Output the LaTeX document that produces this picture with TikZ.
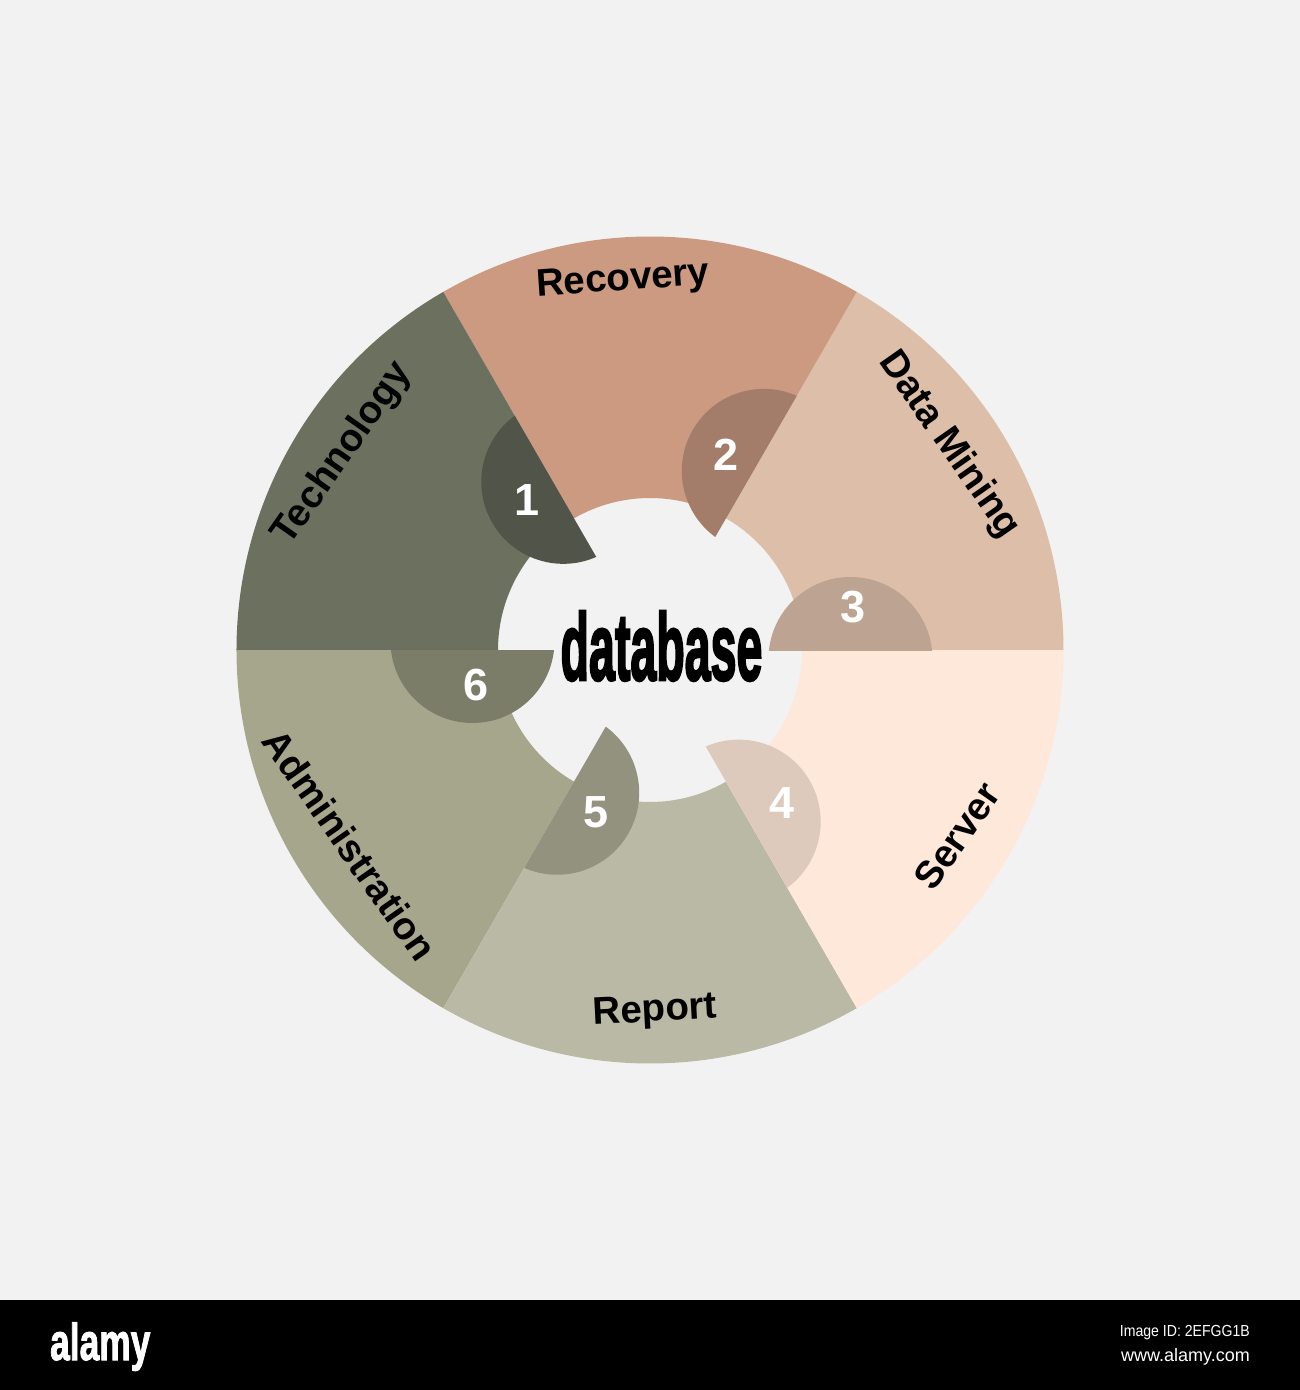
\documentclass[tikz,border=0pt]{standalone}
\usepackage{fontspec}
\setmainfont{Liberation Sans}
\newfontfamily\dbfont[BoldFeatures={FakeBold=3}]{Liberation Sans}
\newfontfamily\logofont[BoldFeatures={FakeBold=2}]{Liberation Sans}
\definecolor{bg}{HTML}{F2F2F2}
\definecolor{secDM}{HTML}{DDBEA8}
\definecolor{secRec}{HTML}{CB9A80}
\definecolor{secTech}{HTML}{6B705F}
\definecolor{secAdm}{HTML}{A6A68C}
\definecolor{secRep}{HTML}{B9B9A5}
\definecolor{secSrv}{HTML}{FEE8DA}
\definecolor{tabA}{HTML}{515448}
\definecolor{tabB}{HTML}{A37D6A}
\definecolor{tabC}{HTML}{BDA392}
\definecolor{tabD}{HTML}{DDCABC}
\definecolor{tabE}{HTML}{93927F}
\definecolor{tabF}{HTML}{7B7D69}
\begin{document}
\begin{tikzpicture}[x=1pt,y=1pt,
  lab/.style={font=\bfseries\fontsize{38.5}{38.5}\selectfont, text=black, inner sep=0pt},
  numlbl/.style={font=\bfseries\fontsize{45}{45}\selectfont, text=white, inner sep=0pt},
  barlbl/.style={text=white, inner sep=0pt}]
\useasboundingbox (-650,-740) rectangle (650,650);
\fill[bg] (-650,-650) rectangle (650,650);
\fill[black] (-650,-740) rectangle (650,-650);
% sectors
\foreach \a/\c in {0/secDM,60/secRec,120/secTech,180/secAdm,240/secRep,300/secSrv}{
  \fill[\c] (\a:413.5) arc[start angle=\a, delta angle=60, radius=413.5]
    -- ({\a+60}:152) arc[start angle={\a+60}, delta angle=-60, radius=152] -- cycle;
}
% number tabs
\foreach \a/\d/\c in {0/200.5/tabC,60/212/tabB,120/189/tabA,180/177.5/tabF,240/170/tabE,300/193/tabD}{
  \begin{scope}[rotate=\a]
    \clip (-600,0) rectangle (600,600);
    \fill[\c] (\d,-9) circle[radius=82];
  \end{scope}
}
% labels
\node[lab, rotate=4]   (rec)  at (-27,369)   {Recovery};
\node[lab, rotate=-55] (dm)   at (299,205)   {Data Mining};
\node[lab, rotate=55]  (tech) at (-307,196)  {Technology};
\node[lab, rotate=-55] (adm)  at (-300,-195) {Administration};
\node[lab, rotate=3]   (rep)  at (5,-362)    {Report};
\node[lab, rotate=55]  (srv)  at (307,-186)  {Server};
% numbers
\node[numlbl] (n1) at (-123,150) {1};
\node[numlbl] (n2) at (76,195)   {2};
\node[numlbl] (n3) at (203,43)   {3};
\node[numlbl] (n4) at (132,-153) {4};
\node[numlbl] (n5) at (-54,-162) {5};
\node[numlbl] (n6) at (-174,-35) {6};
% centre
\node[font=\dbfont\bfseries\fontsize{95}{95}\selectfont, xscale=0.49, anchor=base, inner sep=0pt] (db) at (11.5,-30) {database};
% bottom bar
\node[barlbl, font=\logofont\bfseries\fontsize{52}{52}\selectfont, xscale=0.68, anchor=base west] (logo) at (-600,-710) {alamy};
\node[barlbl, font=\fontsize{16}{16}\selectfont, xscale=0.88, anchor=east] (imgid) at (600,-683) {Image ID: 2EFGG1B};
\node[barlbl, font=\fontsize{18}{18}\selectfont, anchor=east] (www) at (600,-707) {www.alamy.com};
\end{tikzpicture}
\end{document}
